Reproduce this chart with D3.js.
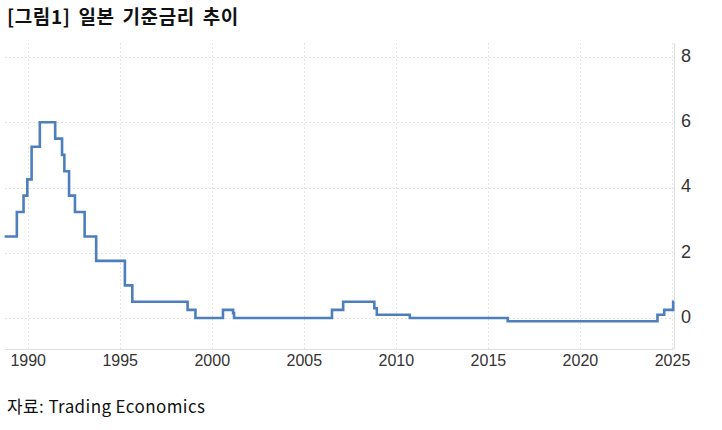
<!DOCTYPE html>
<html>
<head>
<meta charset="utf-8">
<script src="https://cdn.jsdelivr.net/npm/d3@7"></script>
<style>
  html, body { margin: 0; padding: 0; background: #fff; }
  svg { display: block; }
</style>
</head>
<body>
<svg id="chart" width="722" height="430"></svg>
<script>
// ---- data ----
const title = "[그림1] 일본 기준금리 추이";
const source = "자료: Trading Economics";
const changeDates = ["1988-10-01","1989-05-31","1989-10-11","1989-12-25","1990-03-20","1990-08-30",
  "1991-07-01","1991-11-14","1991-12-30","1992-04-01","1992-07-27","1993-02-04","1993-09-21",
  "1995-04-14","1995-09-08","1998-09-09","1999-02-12","2000-08-11","2001-02-28","2001-03-19",
  "2006-07-14","2007-02-21","2008-10-31","2008-12-19","2010-10-05","2016-01-29","2024-03-19",
  "2024-07-31","2025-01-24"];
const rates = [2.5,3.25,3.75,4.25,5.25,6.0,5.5,5.0,4.5,3.75,3.25,2.5,1.75,1.0,0.5,0.25,0,0.25,0.15,0,
  0.25,0.5,0.3,0.1,0,-0.1,0.1,0.25,0.5];
const lastDate = "2025-02-10";
const xDomain = ["1988-10-08", "2025-02-10"];
const yDomain = [-0.95, 8.43];
const xTickYears = [1990, 1995, 2000, 2005, 2010, 2015, 2020, 2025];
const yTicks = [0, 2, 4, 6, 8];

// ---- drawing ----
(function () {
const parse = d3.timeParse("%Y-%m-%d");
const svg = d3.select("#chart");
const pL = 5, pR = 674, pT = 43, pB = 349;

const x = d3.scaleTime().domain(xDomain.map(parse)).range([pL, pR]);
const y = d3.scaleLinear().domain(yDomain).range([pB, pT]);

const pts = changeDates.map((d, i) => ({ date: parse(d), v: rates[i] }));
pts.push({ date: parse(lastDate), v: rates[rates.length - 1] });

// grid
const grid = svg.append("g");
grid.selectAll("line.h").data(yTicks).join("line")
  .attr("x1", pL).attr("x2", pR)
  .attr("y1", d => Math.round(y(d)) + 0.5).attr("y2", d => Math.round(y(d)) + 0.5)
  .attr("stroke", "#e3e3e3").attr("stroke-width", 1).attr("stroke-dasharray", "2,2");
grid.selectAll("line.v").data(xTickYears).join("line")
  .attr("x1", d => Math.round(x(new Date(d, 0, 1))) + 0.5)
  .attr("x2", d => Math.round(x(new Date(d, 0, 1))) + 0.5)
  .attr("y1", pT).attr("y2", pB)
  .attr("stroke", "#e6e6e6").attr("stroke-width", 1).attr("stroke-dasharray", "2,2");

// bottom baseline and right axis line
svg.append("line").attr("x1", pL).attr("x2", pR).attr("y1", pB + 0.5).attr("y2", pB + 0.5)
  .attr("stroke", "#e0e0e0");
svg.append("line").attr("x1", pR + 0.5).attr("x2", pR + 0.5).attr("y1", pT).attr("y2", pB)
  .attr("stroke", "#dcdcdc");

// axes (labels)
const xAxis = d3.axisBottom(x)
  .tickValues(xTickYears.map(yy => new Date(yy, 0, 1)))
  .tickFormat(d3.timeFormat("%Y")).tickSize(0).tickPadding(0);
const gx = svg.append("g").attr("transform", `translate(0,${pB})`).call(xAxis);
gx.select(".domain").remove();
gx.selectAll("text").attr("dy", null).attr("y", 17)
  .attr("font-family", "'Liberation Sans', Arial, sans-serif").attr("font-size", 16).attr("fill", "#333");

const yAxis = d3.axisRight(y).tickValues(yTicks).tickFormat(d3.format("d")).tickSize(0).tickPadding(0);
const gy = svg.append("g").attr("transform", `translate(${pR + 7},0)`).call(yAxis);
gy.select(".domain").remove();
gy.selectAll("text").attr("dy", "0.3em").attr("y", -1)
  .attr("font-family", "'Liberation Sans', Arial, sans-serif").attr("font-size", 18).attr("fill", "#333");

// line
const line = d3.line().x(d => x(d.date)).y(d => y(d.v)).curve(d3.curveStepAfter);
svg.append("path").datum(pts).attr("d", line)
  .attr("fill", "none").attr("stroke", "#4d7fbf").attr("stroke-width", 2.6)
  .attr("stroke-linejoin", "miter");

// title & source
svg.append("text").attr("x", 7).attr("y", 24).text(title)
  .attr("font-family", "'Noto Sans CJK KR', sans-serif").attr("font-weight", "bold")
  .attr("font-size", 19).attr("letter-spacing", 0.6).attr("word-spacing", 3)
  .attr("fill", "#111");
svg.append("text").attr("x", 7).attr("y", 413).text(source)
  .attr("font-family", "'Noto Sans CJK KR', sans-serif")
  .attr("font-size", 17).attr("letter-spacing", 0.4).attr("fill", "#111");
})();
</script>
</body>
</html>
